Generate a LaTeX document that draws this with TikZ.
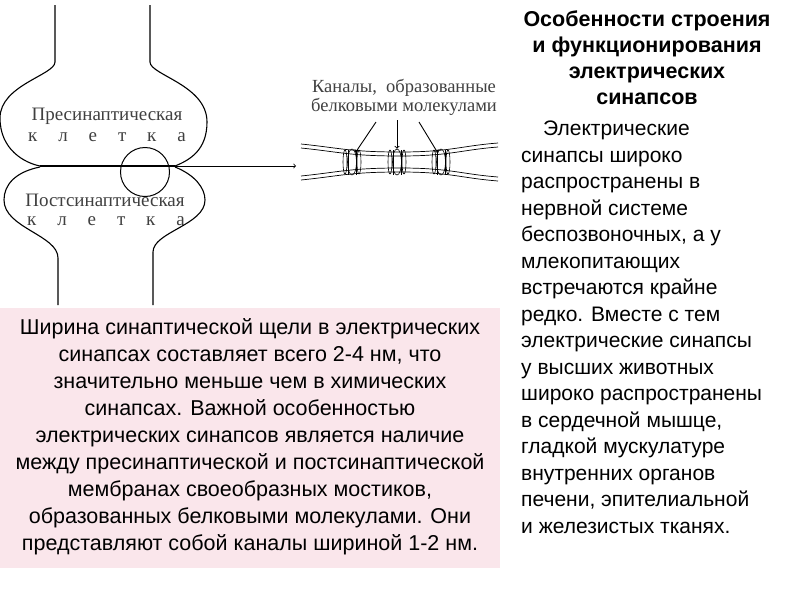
\documentclass[tikz,border=0pt]{standalone}
\usetikzlibrary{shapes.geometric}
\usepackage{fontspec}
\setmainfont{Liberation Sans}
\newfontfamily\tms{Liberation Serif}
\begin{document}
\begin{tikzpicture}[x=1pt,y=-1pt,
  cell/.style={line width=1.1pt},
  lbl/.style={font=\tms\fontsize{19}{21}\selectfont,text=black!75},
  ttl/.style={font=\bfseries\fontsize{21.5}{24}\selectfont,inner sep=0,anchor=base},
  mem/.style={line width=0.7pt},
  chan/.style={line width=0.6pt}]
\useasboundingbox (0,0) rectangle (800,600);
\fill[white] (0,0) rectangle (800,600);
\fill[fill={rgb,255:red,250;green,230;blue,235}] (0,308) rectangle (500,568);
% upper cell
\draw[cell] (55,5) -- (55,62) .. controls (55,75) and (0,85) .. (0,118) .. controls (0,150) and (25,163) .. (40,166);
\draw[cell] (150,5) -- (150,62) .. controls (150,75) and (207,85) .. (207,122) .. controls (207,150) and (190,160) .. (175,166);
\draw[line width=1.4pt] (40,166) -- (175,166);
% lower cell
\draw[cell] (40,167) .. controls (15,172) and (4,185) .. (4,200) .. controls (4,228) and (58,235) .. (58,258) -- (58,305);
\draw[cell] (175,167) .. controls (195,175) and (205,188) .. (205,200) .. controls (205,225) and (153,232) .. (153,252) -- (153,305);
\node[circle,draw,line width=1pt,minimum size=49pt,inner sep=0] (zoomc) at (145,172) {};
\coordinate (arrS) at (175,166);
\coordinate (arrE) at (296,166);
\draw[->,line width=0.8pt] (arrS) -- (arrE);
\node[lbl] (pre) at (107,116) {Пресинаптическая};
\node[lbl] (pre2) at (107,137) {к\hspace{1.1em}л\hspace{1.1em}е\hspace{1.1em}т\hspace{1.1em}к\hspace{1.1em}а};
\node[lbl] (post) at (105,200) {Постсинаптическая};
\node[lbl] (post2) at (106,221) {к\hspace{1.1em}л\hspace{1.1em}е\hspace{1.1em}т\hspace{1.1em}к\hspace{1.1em}а};
% membranes
\draw[mem] (301,144) .. controls (340,148) and (350,152) .. (400,152) .. controls (450,152) and (460,146) .. (498,143);
\draw[mem] (301,148) .. controls (340,152) and (350,156) .. (400,156) .. controls (450,156) and (460,150) .. (498,147);
\draw[mem] (301,176) .. controls (340,172) and (350,168) .. (400,168) .. controls (450,168) and (460,174) .. (498,177);
\draw[mem] (301,180) .. controls (340,176) and (350,172) .. (400,172) .. controls (450,172) and (460,178) .. (498,181);
\foreach \cx/\nm in {352/ca,397/cb,441/cc}{
  \node[ellipse,draw,chan,minimum width=9pt,minimum height=26pt,inner sep=0] (\nm) at (\cx,162) {};
  \draw[chan] (\cx-4,150) -- (\cx-4,175);
  \draw[chan] (\cx+4,150) -- (\cx+4,175);
  \draw[chan] (\cx-7,162) ellipse (2pt and 12pt);
  \draw[chan] (\cx+7,162) ellipse (2pt and 12pt);
}
\node[lbl,font=\tms\fontsize{18.5}{20}\selectfont] (ch1) at (404,88) {Каналы,\ \ образованные};
\node[lbl,font=\tms\fontsize{18.5}{20}\selectfont] (ch2) at (404,107) {белковыми молекулами};
\draw[->,line width=0.9pt] (376,122) -- (ca.north east);
\draw[->,line width=0.9pt] (397,120) -- (cb.north);
\draw[->,line width=0.9pt] (419,122) -- (cc.north west);
% title
\node[ttl] (t1) at (647,26) {Особенности строения};
\node[ttl] (t2) at (647,52) {и функционирования};
\node[ttl] (t3) at (647,78) {электрических};
\node[ttl] (t4) at (647,104) {синапсов};
\node[font=\fontsize{21}{26.5}\selectfont,align=left,anchor=north west,inner sep=0] (body) at (521,121)
 {\hspace*{22pt}Электрические\\синапсы широко\\распространены в\\нервной системе\\беспозвоночных, а у\\млекопитающих\\встречаются крайне\\редко. Вместе с тем\\электрические синапсы\\у высших животных\\широко распространены\\в сердечной мышце,\\гладкой мускулатуре\\внутренних органов\\печени, эпителиальной\\и железистых тканях.};
\node[font=\fontsize{21.5}{27}\selectfont,align=center,anchor=north,inner sep=0] (box) at (250,318)
 {Ширина синаптической щели в электрических\\синапсах составляет всего 2-4 нм, что\\значительно меньше чем в химических\\синапсах. Важной особенностью\\электрических синапсов является наличие\\между пресинаптической и постсинаптической\\мембранах своеобразных мостиков,\\образованных белковыми молекулами. Они\\представляют собой каналы шириной 1-2 нм.};
\end{tikzpicture}
\end{document}
